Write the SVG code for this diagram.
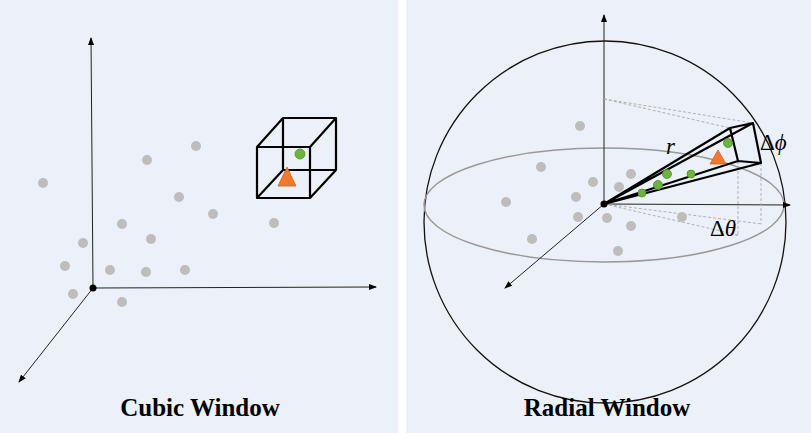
<svg xmlns="http://www.w3.org/2000/svg" width="811" height="433" viewBox="0 0 811 433">
<style>
.bg{fill:#ECF0F8}
.ax{stroke:#222;stroke-width:1;fill:none}
.g{fill:#BDBDBD}
.gr{fill:#6DB33F;stroke:#4F8F2A;stroke-width:0.8}
.tri{fill:#EE7A30;stroke:#D8621A;stroke-width:0.8}
.w{stroke:#000;stroke-width:2.2;fill:none;stroke-linejoin:round}
.d{stroke:#AAA;stroke-width:0.9;stroke-dasharray:3 2;fill:none}
.t{font-family:"Liberation Serif",serif;font-weight:bold;font-size:25px;text-anchor:middle}
.m{font-family:"Liberation Serif",serif;font-style:italic;font-size:23px}
</style>
<defs><marker id="ar" markerWidth="8" markerHeight="6" refX="7" refY="3" orient="auto" markerUnits="userSpaceOnUse"><path d="M0,0L8,3L0,6z" fill="#000"/></marker></defs>
<rect class="bg" x="0" y="0" width="398" height="433"/>
<rect class="bg" x="406" y="0" width="405" height="433"/>
<g id="left-axes">
<line class="ax" x1="93" y1="288" x2="91" y2="38" marker-end="url(#ar)"/>
<line class="ax" x1="93" y1="288" x2="376" y2="287" marker-end="url(#ar)"/>
<line class="ax" x1="93" y1="288" x2="19" y2="382" marker-end="url(#ar)"/>
<circle cx="93" cy="288" r="3.5"/>
</g>
<g id="left-points">
<circle class="g" cx="43" cy="183" r="5"/><circle class="g" cx="147" cy="160" r="5"/><circle class="g" cx="196" cy="146" r="5"/><circle class="g" cx="179" cy="197" r="5"/><circle class="g" cx="213" cy="214" r="5"/><circle class="g" cx="122" cy="224" r="5"/><circle class="g" cx="151" cy="239" r="5"/><circle class="g" cx="83" cy="243" r="5"/><circle class="g" cx="65" cy="266" r="5"/><circle class="g" cx="110" cy="270" r="5"/><circle class="g" cx="146" cy="272" r="5"/><circle class="g" cx="185" cy="270" r="5"/><circle class="g" cx="73" cy="294" r="5"/><circle class="g" cx="122" cy="302" r="5"/><circle class="g" cx="274" cy="223" r="5"/>
</g>
<g id="cube">
<path class="w" d="M257,147H310V198H257Z M283,118H336V170H283Z M257,147L283,118 M310,147L336,118 M310,198L336,170 M257,198L283,170"/>
<circle class="gr" cx="300" cy="154" r="5"/>
<polygon class="tri" points="287,167 278,186 296,186"/>
</g>
<text class="t" x="200" y="416">Cubic Window</text>
<g id="sphere">
<circle cx="605" cy="222" r="181" fill="none" stroke="#111" stroke-width="1.3"/>
<ellipse cx="604" cy="205" rx="180" ry="57" fill="none" stroke="#999" stroke-width="1.5"/>
</g>
<g id="right-axes">
<line class="ax" x1="604" y1="204" x2="604" y2="15" marker-end="url(#ar)"/>
<line class="ax" x1="604" y1="204" x2="790" y2="205" marker-end="url(#ar)"/>
<line class="ax" x1="604" y1="204" x2="505" y2="288" marker-end="url(#ar)"/>
</g>
<g id="dashes">
<path class="d" d="M604,99L753,123 M604,99L730,128 M738,161V235 M761,163V224 M604,204L738,235 M604,204L762,224 M738,235H730"/>
</g>
<g id="right-points">
<circle class="g" cx="580" cy="126" r="5"/><circle class="g" cx="541" cy="167" r="5"/><circle class="g" cx="506" cy="202" r="5"/><circle class="g" cx="593" cy="182" r="5"/><circle class="g" cx="631" cy="174" r="5"/><circle class="g" cx="619" cy="187" r="5"/><circle class="g" cx="576" cy="197" r="5"/><circle class="g" cx="578" cy="217" r="5"/><circle class="g" cx="607" cy="218" r="5"/><circle class="g" cx="631" cy="226" r="5"/><circle class="g" cx="682" cy="217" r="5"/><circle class="g" cx="532" cy="239" r="5"/><circle class="g" cx="618" cy="251" r="5"/>
</g>
<g id="cone">
<path class="w" d="M604,204L730,128 M604,204L753,123 M604,204L738,161 M604,204L761,163 M730,128L753,123L761,163L738,161Z"/>
<circle class="gr" cx="728" cy="143" r="4.5"/><circle class="gr" cx="667" cy="174" r="4.5"/><circle class="gr" cx="691" cy="174" r="4"/><circle class="gr" cx="658" cy="185" r="4.5"/><circle class="gr" cx="642" cy="193" r="4"/>
<polygon class="tri" points="718,150 710,164 726,164"/>
<circle cx="604" cy="204" r="3.5"/>
</g>
<text class="m" x="666" y="154">r</text>
<text class="m" x="760" y="150" style="font-style:normal">Δ<tspan font-style="italic">ϕ</tspan></text>
<text class="m" x="710" y="236" style="font-style:normal">Δ<tspan font-style="italic">θ</tspan></text>
<text class="t" x="607" y="416">Radial Window</text>
</svg>
